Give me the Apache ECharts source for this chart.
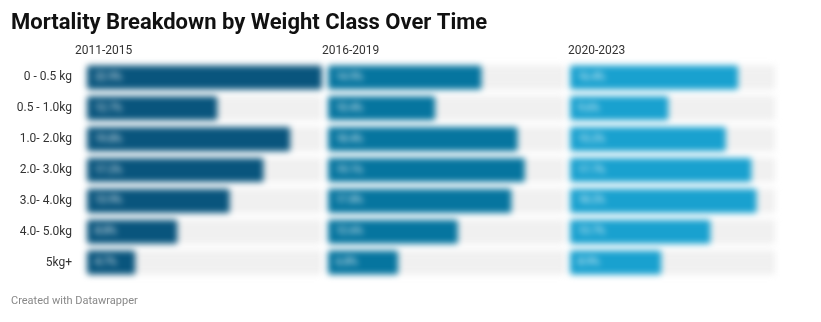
<!DOCTYPE html>
<html>
<head>
<meta charset="utf-8">
<script src="https://cdn.jsdelivr.net/npm/echarts@6/dist/echarts.min.js"></script>
<style>
  html, body { margin: 0; padding: 0; background: #fff; }
  #wrap { position: relative; width: 821px; height: 322px; }
  #bars, #frame { position: absolute; left: 0; top: 0; width: 821px; height: 322px; }
  #bars { filter: blur(3px); }
</style>
</head>
<body>
<div id="wrap">
  <div id="bars"></div>
  <div id="frame"></div>
</div>
<script>
// Weight classes (rows, top to bottom)
const weightClasses = ['0 - 0.5 kg', '0.5 - 1.0kg', '1.0- 2.0kg', '2.0- 3.0kg', '3.0- 4.0kg', '4.0- 5.0kg', '5kg+'];
// Time periods (one panel each)
const periods = ['2011-2015', '2016-2019', '2020-2023'];
// Share of deaths per weight class, in percent
const share2011 = [22.9, 12.7, 19.8, 17.2, 13.9, 8.8, 4.7];
const share2016 = [14.9, 10.4, 18.4, 19.1, 17.8, 12.6, 6.8];
const share2020 = [16.4, 9.6, 15.2, 17.7, 18.2, 13.7, 8.9];
// Scale maximum of each panel
const panelMax = [22.9, 23, 20];

const seriesValues = [share2011, share2016, share2020];
const colors = ['#09557d', '#06759f', '#19a1cf'];
const panels = [
  { left: 87, width: 235 },
  { left: 328, width: 237 },
  { left: 570, width: 205 }
];
const gridTop = 62, gridHeight = 216;

// Bar panels
const barChart = echarts.init(document.getElementById('bars'), null, { renderer: 'canvas' });
barChart.setOption({
  animation: false,
  grid: panels.map(p => ({ left: p.left, width: p.width, top: gridTop, height: gridHeight, containLabel: false })),
  xAxis: panels.map((p, i) => ({
    type: 'value', gridIndex: i, min: 0, max: panelMax[i], show: false
  })),
  yAxis: panels.map((p, i) => ({
    type: 'category', gridIndex: i, data: weightClasses, inverse: true, show: false
  })),
  series: seriesValues.map((vals, i) => ({
    type: 'bar',
    name: periods[i],
    xAxisIndex: i,
    yAxisIndex: i,
    data: vals,
    barCategoryGap: '22%',
    itemStyle: { color: colors[i], borderRadius: 2 },
    showBackground: true,
    backgroundStyle: { color: '#f0f0f0', borderRadius: 2 },
    label: {
      show: true,
      position: 'insideLeft',
      distance: 8,
      color: '#ffffff',
      fontFamily: 'Roboto',
      fontSize: 10,
      formatter: p => p.value.toFixed(1) + '%'
    }
  }))
});

// Title, panel headers, row labels and credit
const frame = echarts.init(document.getElementById('frame'), null, { renderer: 'canvas' });
const headerX = [75, 322, 568];
frame.setOption({
  animation: false,
  title: {
    text: 'Mortality Breakdown by Weight Class Over Time',
    left: 6, top: 7,
    textStyle: { fontFamily: 'Roboto', fontWeight: 'bold', fontSize: 22, color: '#111' }
  },
  grid: { left: 80, width: 10, top: gridTop, height: gridHeight },
  xAxis: { type: 'value', show: false },
  yAxis: {
    type: 'category', data: weightClasses, inverse: true,
    axisLine: { show: false }, axisTick: { show: false }, splitLine: { show: false },
    axisLabel: { margin: 8, fontFamily: 'Roboto', fontSize: 12, color: '#333' }
  },
  graphic: [
    ...periods.map((t, i) => ({
      type: 'text', left: headerX[i], top: 45,
      style: { text: t, fontFamily: 'Roboto', fontSize: 12, fill: '#333' }
    })),
    {
      type: 'text', left: 11, top: 296,
      style: { text: 'Created with Datawrapper', fontFamily: 'Roboto', fontSize: 11, fill: '#888' }
    }
  ]
});
</script>
</body>
</html>
